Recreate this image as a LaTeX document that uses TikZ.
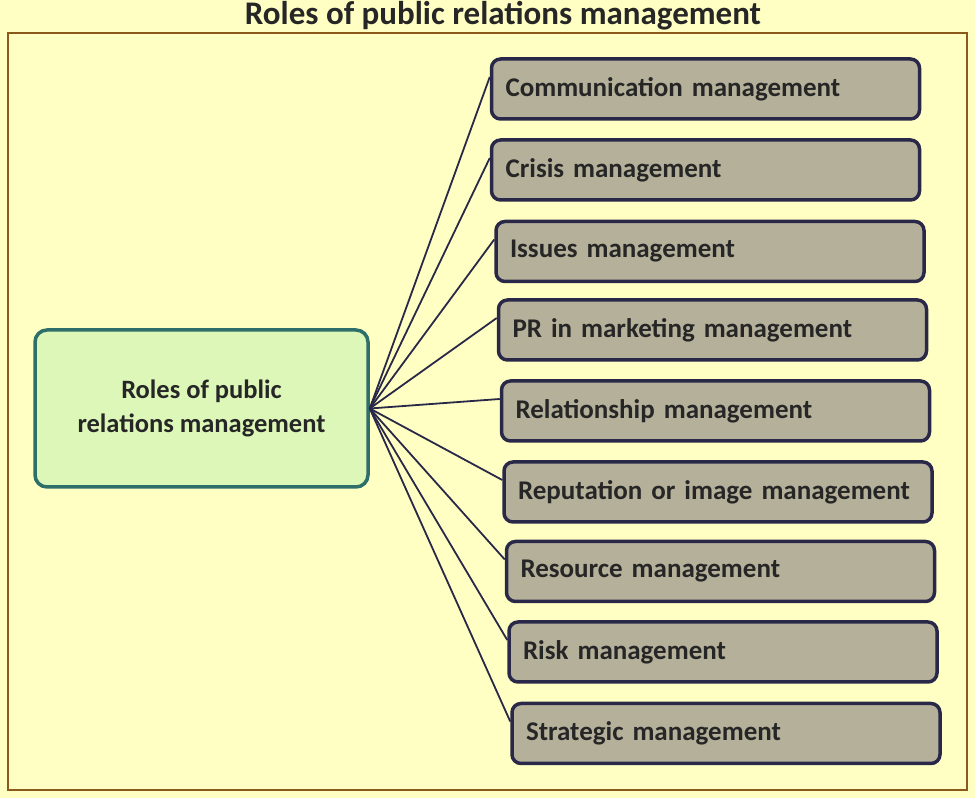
\documentclass[tikz,border=0pt]{standalone}
\usepackage{fontspec}
\setmainfont{Carlito}
\definecolor{bgyellow}{HTML}{FFFFC4}
\definecolor{framebrown}{HTML}{8B5A1A}
\definecolor{rolefill}{HTML}{B5B09A}
\definecolor{rolenavy}{HTML}{2A2848}
\definecolor{centerfill}{HTML}{DDF7B8}
\definecolor{centerteal}{HTML}{2F6F6A}
\tikzset{
  rolebox/.style={draw=rolenavy, line width=3.5pt, fill=rolefill, rounded corners=9pt,
    minimum width=425pt, minimum height=60pt, text width=400pt, align=left,
    inner xsep=14pt, font=\bfseries\fontsize{27}{30}\selectfont, text=black!85},
  centerbox/.style={draw=centerteal, line width=3.5pt, fill=centerfill, rounded corners=12pt,
    minimum width=333pt, minimum height=157pt, align=center,
    font=\bfseries\fontsize{26.5}{34}\selectfont, text=black!85},
  link/.style={rolenavy, line width=1.8pt}
}
\begin{document}
\begin{tikzpicture}[x=1pt,y=1pt]
  % page and frame
  \fill[bgyellow] (0,0) rectangle (975,798);
  \useasboundingbox (0,0) rectangle (975,798);
  \draw[framebrown, line width=2.5pt] (8,8) rectangle (967,765);
  \node[font=\bfseries\fontsize{33}{36}\selectfont, text=black!85] (title) at (503,782) {Roles of public relations management};

  % centre node
  \node[centerbox] (roles) at (201.5,389.5) {Roles of public\\relations management};

  % role nodes, each shifted a little to the right
  \foreach \i/\x/\y/\txt in {
      1/705.5/709/Communication management,
      2/705.5/628/Crisis management,
      3/710/546.5/Issues management,
      4/712.5/468/PR in marketing management,
      5/715.5/387/Relationship management,
      6/718/306/Reputation or image management,
      7/720.5/226.5/Resource management,
      8/723/146/Risk management,
      9/726/64.5/Strategic management} {
    \node[rolebox] (r\i) at (\x,\y) {\txt};
    \draw[link] (roles.east) -- ([yshift=12pt]r\i.west);
  }
\end{tikzpicture}
\end{document}
